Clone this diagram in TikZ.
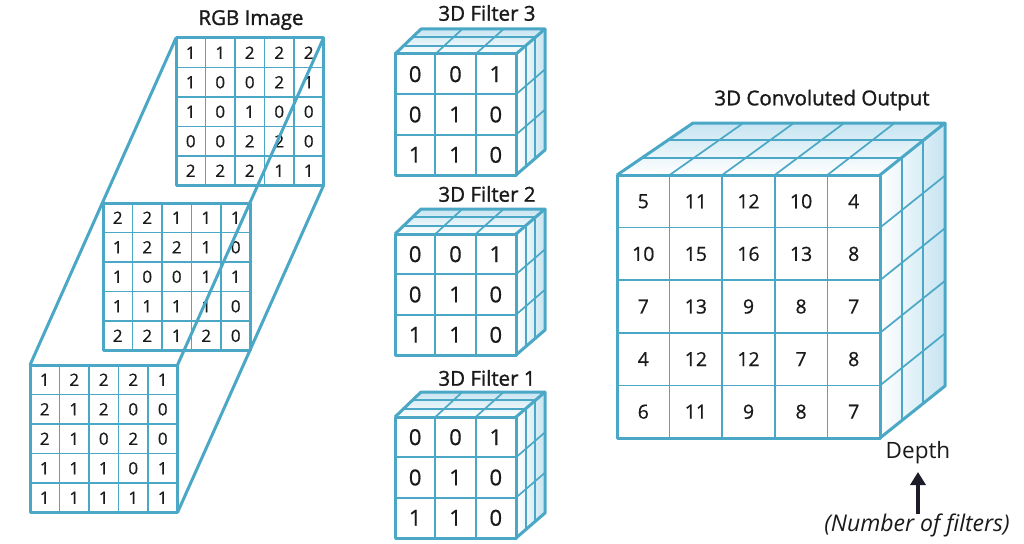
\documentclass[tikz,border=0pt]{standalone}
\usepackage{fontspec}
\setmainfont{Open Sans}
\newfontfamily\lblfont{Open Sans}[FakeBold=1.3]
\newfontfamily\numfont{Open Sans}[FakeBold=0.6]
\usetikzlibrary{calc,arrows.meta}
\definecolor{cl}{HTML}{4AA8C6}
\definecolor{cf}{HTML}{C6E4F1}
\definecolor{tx}{HTML}{1A1A1A}
\definecolor{ar}{HTML}{1C1C2A}
\tikzset{
  inner/.style={draw=cl,line width=1.7pt},
  outer/.style={draw=cl,line width=3pt,line join=round},
  num/.style={text=tx,inner sep=0pt,anchor=center},
  lbl/.style={text=tx,inner sep=0pt,font=\lblfont\fontsize{20.5}{20.5}\selectfont},
}
% flat grid: x y size n
\newcommand\flatgrid[4]{%
  \pgfmathtruncatemacro\nm{#4-1}%
  \fill[white] (#1,#2) rectangle (#1+#3,#2+#3);
  \foreach \i in {1,...,\nm}{%
    \pgfmathsetmacro\pp{\i*#3/#4}%
    \draw[inner] (#1+\pp,#2) -- (#1+\pp,#2+#3);
    \draw[inner] (#1,#2+\pp) -- (#1+#3,#2+\pp);
  }
  \draw[outer] (#1,#2) rectangle (#1+#3,#2+#3);
}
% cube: x y size n depth dxL dxR dy
\newcommand\cubefaces[8]{%
  \coordinate (FL) at (#1,#2);
  \coordinate (FR) at (#1+#3,#2);
  \coordinate (BR) at (#1+#3+#7,#2+#8);
  \coordinate (BL) at (#1+#6,#2+#8);
  \coordinate (FB) at (#1+#3,#2+#3);
  \coordinate (BB) at (#1+#3+#7,#2+#3+#8);
  \fill[top color=cf,bottom color=white] (FL)--(FR)--(BR)--(BL)--cycle;
  \fill[left color=white,right color=cf] (FR)--(FB)--(BB)--(BR)--cycle;
  \pgfmathtruncatemacro\nm{#4-1}%
  \pgfmathtruncatemacro\dm{#5-1}%
  \foreach \i in {1,...,\nm}{%
    \pgfmathsetmacro\ff{\i/#4}%
    \draw[inner] ($(FL)!\ff!(FR)$) -- ($(BL)!\ff!(BR)$);
    \draw[inner] ($(FR)!\ff!(FB)$) -- ($(BR)!\ff!(BB)$);
  }
  \foreach \j in {1,...,\dm}{%
    \pgfmathsetmacro\ff{\j/#5}%
    \draw[inner] ($(FL)!\ff!(BL)$) -- ($(FR)!\ff!(BR)$);
    \draw[inner] ($(FR)!\ff!(BR)$) -- ($(FB)!\ff!(BB)$);
  }
  \flatgrid{#1}{#2}{#3}{#4}
  \draw[outer] (FL)--(BL)--(BR)--(FR);
  \draw[outer] (BR)--(BB)--(FB);
}
% numbers: name x y cell fontsize list
\newcommand\gridnums[6]{%
  \foreach \row [count=\r] in {#6}{%
    \foreach \v [count=\c] in \row{%
      \node[num,font=\numfont\fontsize{#5}{#5}\selectfont] (#1-\r-\c) at ({#2+(\c-0.5)*#4},{#3+(\r-0.5)*#4}) {\v};
    }
  }
}
\begin{document}
\begin{tikzpicture}[x=1pt,y=-1pt]
\useasboundingbox[fill=white] (0,0) rectangle (1024,543);

% ---------- RGB image ----------
\node[lbl] (rgblbl) at (251,20) {RGB Image};
\flatgrid{30}{365}{147.5}{5}
\flatgrid{103}{203}{147.5}{5}
\flatgrid{176}{38}{147.5}{5}
\gridnums{b}{30}{365}{29.5}{17}{{1,2,2,2,1},{2,1,2,0,0},{2,1,0,2,0},{1,1,1,0,1},{1,1,1,1,1}}
\gridnums{m}{103}{203}{29.5}{17}{{2,2,1,1,1},{1,2,2,1,0},{1,0,0,1,1},{1,1,1,1,0},{2,2,1,2,0}}
\gridnums{t}{176}{38}{29.5}{17}{{1,1,2,2,2},{1,0,0,2,1},{1,0,1,0,0},{0,0,2,2,0},{2,2,2,1,1}}
\coordinate (bTL) at (30,365);
\coordinate (bTR) at (177.5,365);
\coordinate (bBR) at (177.5,512.5);
\coordinate (tTL) at (176,38);
\coordinate (tTR) at (323.5,38);
\coordinate (tBR) at (323.5,185.5);
\draw[outer] (bTL) -- (tTL);
\draw[outer] (bTR) -- (tTR);
\draw[outer] (bBR) -- (tBR);

% ---------- Filters ----------
\node[lbl] (f3lbl) at (487,13) {3D Filter 3};
\cubefaces{395}{54}{121}{3}{3}{26}{29}{-25}
\gridnums{fa}{395}{54}{40.33}{22}{{0,0,1},{0,1,0},{1,1,0}}

\node[lbl] (f2lbl) at (487,194) {3D Filter 2};
\cubefaces{395}{234}{121}{3}{3}{26}{29}{-25}
\gridnums{fb}{395}{234}{40.33}{22}{{0,0,1},{0,1,0},{1,1,0}}

\node[lbl] (f1lbl) at (487,378) {3D Filter 1};
\cubefaces{395}{417}{121}{3}{3}{26}{29}{-25}
\gridnums{fc}{395}{417}{40.33}{22}{{0,0,1},{0,1,0},{1,1,0}}

% ---------- Output ----------
\node[lbl] (outlbl) at (822,100) {3D Convoluted Output};
\cubefaces{617}{175}{263}{5}{3}{76}{65}{-52}
\gridnums{o}{617}{175}{52.6}{19.5}{{5,11,12,10,4},{10,15,16,13,8},{7,13,9,8,7},{4,12,12,7,8},{6,11,9,8,7}}

% ---------- Depth ----------
\node[text=tx,inner sep=0pt,font=\fontsize{22.5}{22.5}\selectfont] (depth) at (918,453) {Depth};
\node[text=tx,inner sep=0pt,font=\itshape\fontsize{23}{23}\selectfont] (nfil) at (917,525) {(Number of filters)};
\coordinate (arS) at (918,514);
\coordinate (arE) at (918,472);
\draw[ar,line width=3.5pt,-{Triangle[length=13pt,width=15pt]}] (arS) -- (arE);
\end{tikzpicture}
\end{document}
